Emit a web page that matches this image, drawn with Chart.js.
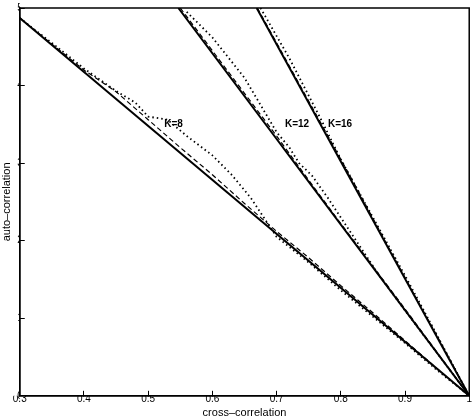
<!DOCTYPE html><html><head><script src="https://cdn.jsdelivr.net/npm/chart.js"></script>
<style>body{margin:0;background:#fff}#w{width:474px;height:420px}</style></head><body><div id="w"><canvas id="c"></canvas></div><script>
const xTicks=[0.3,0.4,0.5,0.6,0.7,0.8,0.9,1];
const yTicks=[0,1,2,3,4,5];
const k8Line=[[0.3,4.87],[1,0]];
const k12Line=[[0.547,5],[1,0]];
const k16Line=[[0.669,5],[1,0]];
const k8Dot=[[0.3,4.87],[0.35,4.55],[0.4,4.22],[0.45,3.93],[0.48,3.78],[0.5,3.6],[0.53,3.56],[0.56,3.35],[0.6,3.1],[0.63,2.85],[0.66,2.55],[0.7,2.05],[0.75,1.72],[0.8,1.36],[0.85,1.02],[0.9,0.68],[0.95,0.33],[1,0]];
const k8Dash=[[0.3,4.87],[0.4,4.2],[0.45,3.92],[0.5,3.56],[0.55,3.2],[0.6,2.85],[0.65,2.48],[0.7,2.12],[0.75,1.78],[0.8,1.42],[0.85,1.07],[0.9,0.71],[0.95,0.35],[1,0]];
const k12Dot=[[0.56,4.95],[0.6,4.62],[0.65,4.1],[0.7,3.4],[0.72,3.2],[0.735,3.0],[0.755,2.84],[0.78,2.55],[0.82,2.05],[0.86,1.55],[0.9,1.1],[0.95,0.55],[1,0]];
const k12Dash=[[0.55,5],[0.6,4.45],[0.65,3.9],[0.7,3.35],[0.75,2.78],[0.8,2.22],[0.85,1.67],[0.9,1.12],[0.95,0.56],[1,0]];
const k16Dot=[[0.675,5],[0.72,4.35],[0.77,3.55],[0.8,3.05],[0.85,2.3],[0.9,1.55],[0.95,0.78],[1,0]];
const k16Dash=[[0.67,5],[0.72,4.25],[0.77,3.5],[0.82,2.75],[0.87,1.98],[0.92,1.22],[0.96,0.62],[1,0]];
const labels=[["K=8",0.525,3.5],["K=12",0.713,3.5],["K=16",0.78,3.5]];
const pts=a=>a.map(p=>({x:p[0],y:p[1]}));
const ds=(d,dash,w)=>({data:pts(d),borderColor:'#000',borderWidth:w,borderDash:dash,pointRadius:0,fill:false,tension:0});
const lab={id:'lab',afterDatasetsDraw(ch){const c=ch.ctx,xs=ch.scales.x,ys=ch.scales.y;c.save();c.font='bold 10px "Liberation Sans"';c.fillStyle='#000';c.textBaseline='middle';labels.forEach(l=>c.fillText(l[0],xs.getPixelForValue(l[1]),ys.getPixelForValue(l[2])));c.restore();}};
new Chart(document.getElementById('c'),{type:'line',data:{datasets:[
ds(k8Dot,[1.5,3],1.8),ds(k8Dash,[5,3],1.2),ds(k12Dot,[1.5,3],1.8),ds(k12Dash,[5,3],1.2),ds(k16Dot,[1.5,3],1.8),ds(k16Dash,[5,3],1.2),
ds(k8Line,[],2),ds(k12Line,[],2),ds(k16Line,[],2)]},
options:{responsive:true,maintainAspectRatio:false,animation:false,layout:{padding:{top:4,right:4,left:0,bottom:0}},
plugins:{legend:{display:false},tooltip:{enabled:false}},
scales:{x:{type:'linear',min:0.3,max:1,afterBuildTicks:a=>{a.ticks=xTicks.map(v=>({value:v}))},
ticks:{color:'#000',font:{family:'Liberation Sans',size:10},padding:2,callback:v=>v===1?'1':v.toFixed(1)},
grid:{display:true,drawOnChartArea:false,tickLength:-5,color:'#000',lineWidth:1},border:{color:'#000',width:1.5},
title:{display:true,text:'cross\u2013correlation',color:'#000',font:{family:'Liberation Sans',size:11},padding:{top:0,bottom:0}}},
y:{min:0,max:5,afterBuildTicks:a=>{a.ticks=yTicks.map(v=>({value:v}))},
ticks:{color:'#000',font:{family:'Liberation Sans',size:10},padding:2},
grid:{display:true,drawOnChartArea:false,tickLength:-5,color:'#000'},border:{color:'#000',width:1.5},
title:{display:true,text:'auto\u2013correlation',color:'#000',font:{family:'Liberation Sans',size:11},padding:{top:0,bottom:2}}}}},
plugins:[lab,{id:'frame',afterDraw(ch){const a=ch.chartArea,c=ch.ctx;c.save();c.strokeStyle='#000';c.lineWidth=1.5;c.strokeRect(a.left,a.top,a.right-a.left,a.bottom-a.top);c.restore();}}]});
</script></body></html>
